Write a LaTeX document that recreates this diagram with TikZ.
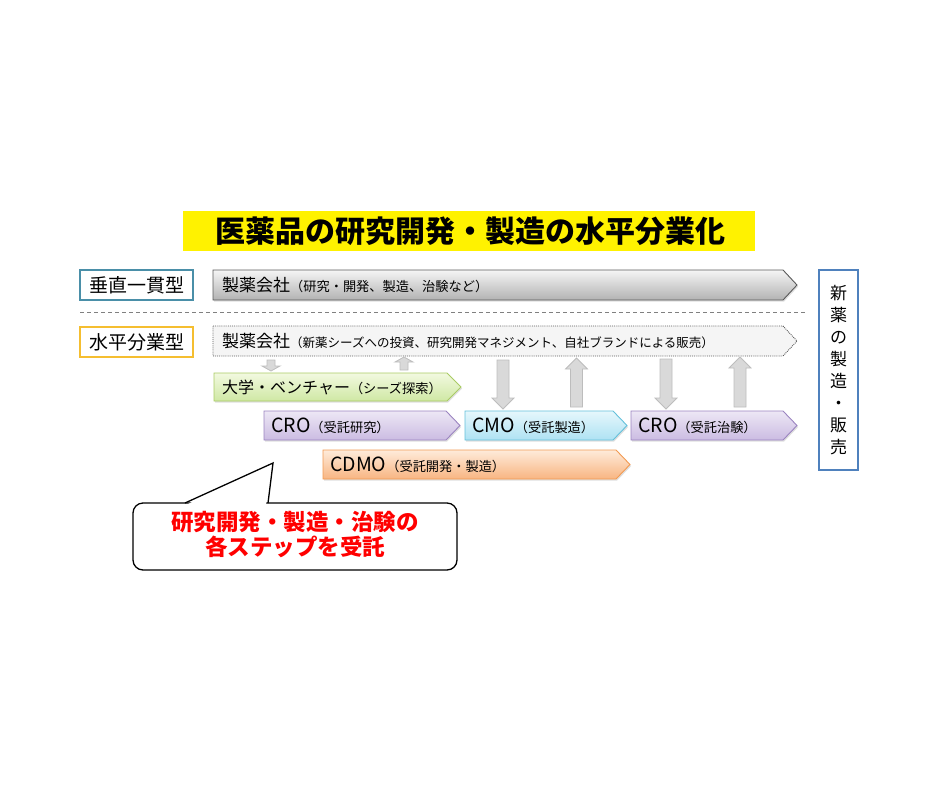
\documentclass[tikz,border=0pt]{standalone}
\usepackage{fontspec}
\setmainfont{Noto Sans CJK JP}
\usetikzlibrary{shadows}
\definecolor{tealb}{HTML}{4A8FA8}
\definecolor{goldb}{HTML}{F5BE30}
\definecolor{blueb}{HTML}{4F81BD}
\definecolor{grayb}{HTML}{5A5A5A}
\definecolor{greentop}{HTML}{F2F9E0}
\definecolor{greenbot}{HTML}{CFE8A4}
\definecolor{greenb}{HTML}{A9CB64}
\definecolor{purtop}{HTML}{EDE7F5}
\definecolor{purbot}{HTML}{CBBCE2}
\definecolor{purb}{HTML}{9B84C0}
\definecolor{cyantop}{HTML}{E6F7FC}
\definecolor{cyanbot}{HTML}{AEE2F3}
\definecolor{cyanb}{HTML}{64C0DA}
\definecolor{ortop}{HTML}{FEEBDA}
\definecolor{orbot}{HTML}{F8B582}
\definecolor{orb}{HTML}{F29A52}
\definecolor{bigfill}{HTML}{D9D9D9}
\definecolor{bigdraw}{HTML}{BDBDBD}
\newcommand\pent[5]{\path[#5] (#1,#2) -- ({#3-14},#2) -- (#3,{(#2+#4)/2}) -- ({#3-14},#4) -- (#1,#4) -- cycle;}
\newcommand\downarr[5]{\path[bigarr] ({#1-#4},#2) -- ({#1+#4},#2) -- ({#1+#4},{#3-#5}) -- ({#1+#4+5},{#3-#5}) -- (#1,#3) -- ({#1-#4-5},{#3-#5}) -- ({#1-#4},{#3-#5}) -- cycle;}
\newcommand\uparr[5]{\path[bigarr] ({#1-#4},#3) -- ({#1+#4},#3) -- ({#1+#4},{#2+#5}) -- ({#1+#4+5},{#2+#5}) -- (#1,#2) -- ({#1-#4-5},{#2+#5}) -- ({#1-#4},{#2+#5}) -- cycle;}
\newcommand\smtxt[1]{{\fontsize{13.2}{15}\selectfont #1}}
\newcommand\smtxtb[1]{{\fontsize{12.5}{15}\selectfont #1}}
\tikzset{
  lbl/.style={inner sep=0pt, anchor=west, font=\fontsize{17}{20}\selectfont},
  latlbl/.style={lbl, font=\fontsize{19.5}{22}\selectfont},
  typebox/.style={draw, line width=1.3pt, minimum width=113pt, minimum height=30pt, inner sep=0pt, font=\fontsize{19}{22}\selectfont},
  shad/.style={drop shadow={shadow xshift=1.2pt, shadow yshift=-1.5pt, opacity=0.25}},
  bigarr/.style={fill=bigfill, draw=bigdraw, line width=0.8pt},
}
\begin{document}
\begin{tikzpicture}[x=1pt, y=-1pt]
\useasboundingbox (0,0) rectangle (940,788);
% title
\fill[yellow] (183,211) rectangle (755,251);
\node[inner sep=0pt, font=\fontsize{30}{34}\selectfont\bfseries] (title) at (470,231) {医薬品の研究開発・製造の水平分業化};
% type boxes
\node[typebox, draw=tealb] (vert) at (136.5,285) {垂直一貫型};
\node[typebox, draw=goldb] (horiz) at (136.5,342) {水平分業型};
% vertical integrated arrow
\pent{213}{270}{797}{300}{shad, top color=gray!8, bottom color=gray!60, draw=grayb, line width=0.9pt}
\node[lbl] (pharma1) at (222,285) {製薬会社\smtxt{（研究・開発、製造、治験など）}};
% dashed separator
\draw[gray, line width=0.9pt, dash pattern=on 4pt off 3pt] (80,312) -- (807,312);
% dotted arrow
\pent{213}{326}{797}{356}{fill=gray!8, draw=grayb, line width=0.9pt, densely dotted}
\node[lbl] (pharma2) at (222,341) {製薬会社\smtxtb{（新薬シーズへの投資、研究開発マネジメント、自社ブランドによる販売）}};
% small arrows
\downarr{271}{360}{371}{4}{5}
\uparr{404}{357}{370}{4}{5}
% green
\pent{214}{373}{461}{401}{shad, top color=greentop, bottom color=greenbot, draw=greenb, line width=0.9pt}
\node[lbl, font=\fontsize{16}{19}\selectfont] (univ) at (222,387) {大学・ベンチャー\smtxt{（シーズ探索）}};
% CRO research
\pent{264}{411}{460}{440}{shad, top color=purtop, bottom color=purbot, draw=purb, line width=0.9pt}
\node[latlbl] (cro1) at (271,425.5) {CRO\smtxt{（受託研究）}};
% CMO
\pent{465}{411}{627}{440}{shad, top color=cyantop, bottom color=cyanbot, draw=cyanb, line width=0.9pt}
\node[latlbl] (cmo) at (472,425.5) {CMO\smtxt{（受託製造）}};
% CRO trial
\pent{631}{411}{797}{440}{shad, top color=purtop, bottom color=purbot, draw=purb, line width=0.9pt}
\node[latlbl] (cro2) at (638,425.5) {CRO\smtxt{（受託治験）}};
% CDMO
\pent{323}{450}{630}{479}{shad, top color=ortop, bottom color=orbot, draw=orb, line width=0.9pt}
\node[latlbl] (cdmo) at (330,464.5) {CDMO\smtxt{（受託開発・製造）}};
% big gray arrows
\downarr{503}{360}{409}{6}{11}
\uparr{576.5}{358}{407}{6}{11}
\downarr{666}{359}{409}{6}{11}
\uparr{740}{357}{407}{6}{11}
% right box
\draw[blueb, line width=1.5pt] (819,270) rectangle (858,470);
\node[inner sep=0pt, align=center, font=\fontsize{17}{22}\selectfont] (sales) at (838.5,370) {新\\薬\\の\\製\\造\\・\\販\\売};
% callout
\draw[black, line width=1.3pt, fill=white, rounded corners=10pt] (133,503) rectangle (457,570);
\fill[white] (187,504.5) -- (273,463) -- (266,504.5) -- cycle;
\draw[black, line width=1.3pt, line join=miter] (185,503) -- (273,463) -- (268,503);
\node[inner sep=0pt, align=center, text=red, font=\fontsize{22.5}{25}\selectfont\bfseries] (callout) at (295,535) {研究開発・製造・治験の\\各ステップを受託};
\end{tikzpicture}
\end{document}
